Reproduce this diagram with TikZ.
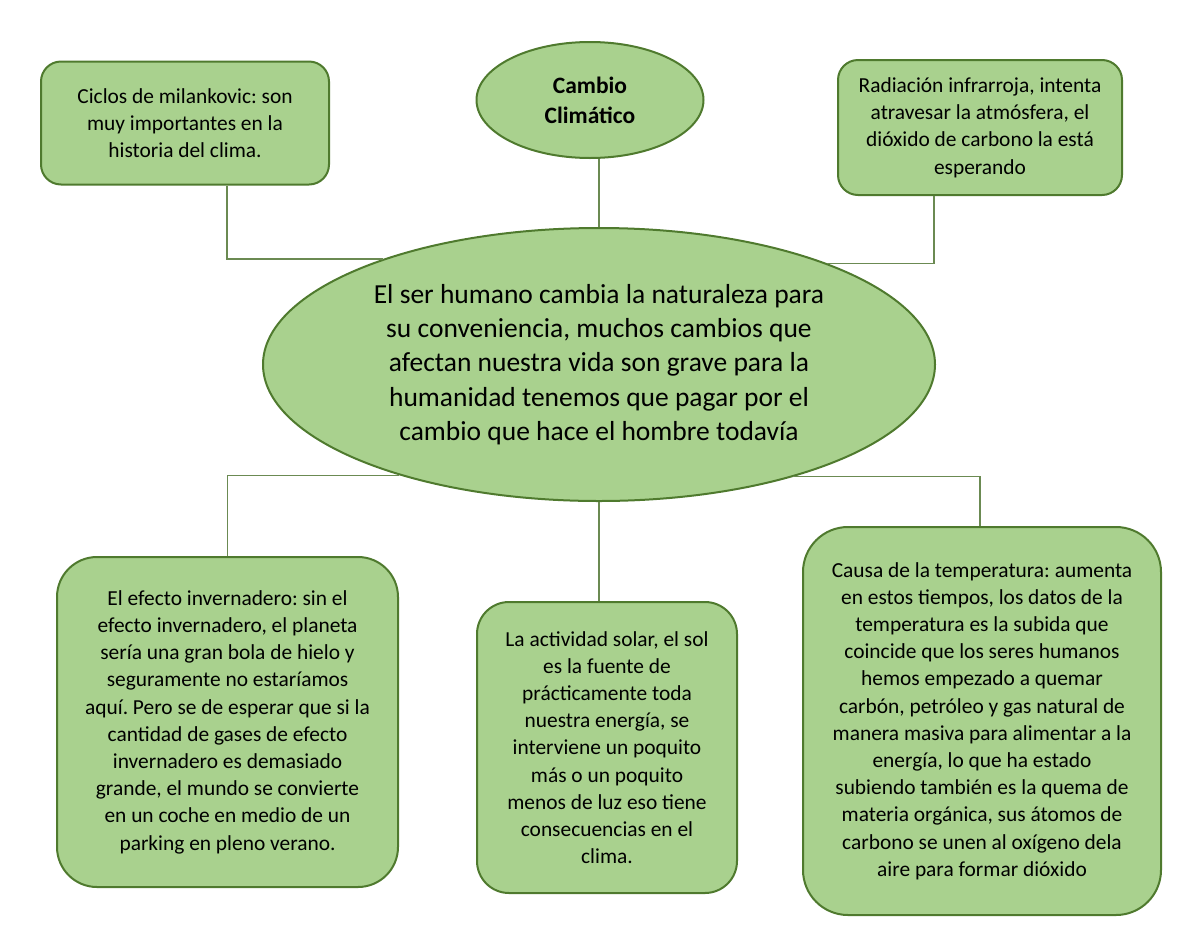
\documentclass[tikz,border=0pt]{standalone}
\usepackage{fontspec}
\setmainfont{Carlito}
\frenchspacing
\usetikzlibrary{shapes.geometric}
\definecolor{boxfill}{HTML}{A9D18E}
\definecolor{boxline}{HTML}{4F7A2E}
\definecolor{connline}{HTML}{6B8A52}
\tikzset{
  greenbox/.style={draw=boxline, line width=2pt, fill=boxfill, rounded corners=#1, align=center, inner sep=0pt, font=\fontsize{21.4}{27.2}\selectfont},
  greenoval/.style={draw=boxline, line width=2pt, fill=boxfill, ellipse, align=center, inner sep=0pt},
  conn/.style={draw=connline, line width=1.1pt}
}
\begin{document}
\frenchspacing
\begin{tikzpicture}[x=1pt,y=-1pt]
\useasboundingbox (0,0) rectangle (1200,927);
% main ellipse
\node[greenoval, minimum width=672pt, minimum height=273pt, font=\fontsize{27.5}{34.3}\selectfont] (main) at (599,364.5)
 {El ser humano cambia la naturaleza para\\su conveniencia, muchos cambios que\\afectan nuestra vida son grave para la\\humanidad tenemos que pagar por el\\cambio que hace el hombre todavía};
% title
\node[greenoval, minimum width=227pt, minimum height=116pt, font=\fontsize{23.5}{30}\selectfont\bfseries] (top) at (590,100)
 {Cambio\\Climático};
% boxes
\node[greenbox=20pt, minimum width=288pt, minimum height=123pt] (b1) at (185,123)
 {Ciclos de milankovic: son\\muy importantes en la\\historia del clima.};
\node[greenbox=20pt, minimum width=284pt, minimum height=135pt] (b3) at (980,127.5)
 {Radiación infrarroja, intenta\\atravesar la atmósfera, el\\dióxido de carbono la está\\esperando};
\node[greenbox=40pt, minimum width=341pt, minimum height=330pt] (b4) at (227.5,722)
 {El efecto invernadero: sin el\\efecto invernadero, el planeta\\sería una gran bola de hielo y\\seguramente no estaríamos\\aquí. Pero se de esperar que si la\\cantidad de gases de efecto\\invernadero es demasiado\\grande, el mundo se convierte\\en un coche en medio de un\\parking en pleno verano.};
\node[greenbox=32pt, minimum width=260pt, minimum height=291pt] (b5) at (607,747.5)
 {La actividad solar, el sol\\es la fuente de\\prácticamente toda\\nuestra energía, se\\interviene un poquito\\más o un poquito\\menos de luz eso tiene\\consecuencias en el\\clima.};
\node[greenbox=45pt, minimum width=358pt, minimum height=388pt] (b6) at (982,721)
 {Causa de la temperatura: aumenta\\en estos tiempos, los datos de la\\temperatura es la subida que\\coincide que los seres humanos\\hemos empezado a quemar\\carbón, petróleo y gas natural de\\manera masiva para alimentar a la\\energía, lo que ha estado\\subiendo también es la quema de\\materia orgánica, sus átomos de\\carbono se unen al oxígeno dela\\aire para formar dióxido};
% connectors
\draw[conn] (main.north) -- (main.north |- top.south);
\draw[conn] ([xshift=42pt]b1.south) |- (main.154.9);
\draw[conn] ([xshift=-46pt]b3.south) |- (main.24.8);
\draw[conn] (main.209.5) -| (b4.north);
\draw[conn] (main.330.4) -| ([xshift=-2pt]b6.north);
\draw[conn] (main.south) -- (main.south |- b5.north);
\end{tikzpicture}
\end{document}
